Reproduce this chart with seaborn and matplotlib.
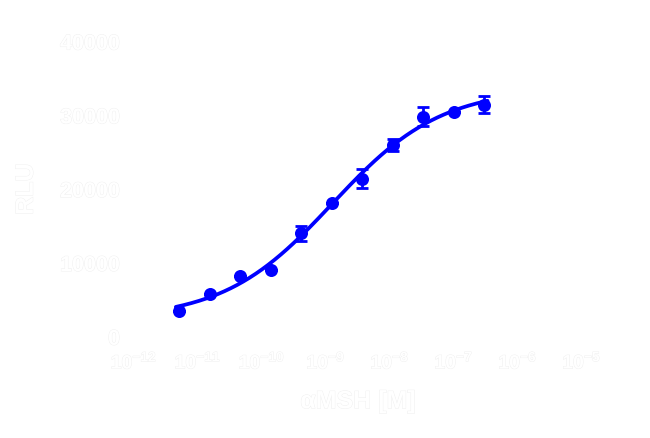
import numpy as np
import pandas as pd
import seaborn as sns
import matplotlib
matplotlib.use('Agg')
import matplotlib.pyplot as plt
import matplotlib.patheffects as pe

# concentrations (M), 3-fold dilutions
conc = [5.08e-12, 1.52e-11, 4.57e-11, 1.37e-10, 4.12e-10, 1.23e-9,
        3.70e-9, 1.11e-8, 3.33e-8, 1.0e-7, 3.0e-7]
rlu = [3500, 5750, 8240, 9050, 14030, 18100, 21400, 26010, 29810, 30490, 31440]
sem = [0, 0, 0, 0, 1000, 0, 1290, 810, 1310, 0, 1180]
yticks = [0, 10000, 20000, 30000, 40000]
xlabel = 'αMSH [M]'
ylabel = 'RLU'

df = pd.DataFrame({'conc': conc, 'rlu': rlu, 'sem': sem})

# simple 4PL fit on log concentration (grid search + linear lsq)
lx = np.log10(df['conc'].values)
yv = df['rlu'].values.astype(float)
best = None
for ec in np.arange(-11, -6.5, 0.01):
    for h in np.arange(0.3, 1.5, 0.01):
        f = 1.0 / (1.0 + 10 ** ((ec - lx) * h))
        A = np.vstack([np.ones_like(f), f]).T
        coef, res, _, _ = np.linalg.lstsq(A, yv, rcond=None)
        r = np.sum((A @ coef - yv) ** 2)
        if best is None or r < best[0]:
            best = (r, ec, h, coef)
_, ec50, hill, coef = best
xs = np.linspace(lx.min() - 0.05, lx.max() + 0.05, 200)
fit = pd.DataFrame({'conc': 10 ** xs,
                    'rlu': coef[0] + coef[1] / (1.0 + 10 ** ((ec50 - xs) * hill))})

sns.set_style('white')
plt.rcParams['font.family'] = ['Liberation Sans', 'DejaVu Sans']
plt.rcParams['font.weight'] = 'bold'

fig = plt.figure(figsize=(6.5, 4.38), dpi=100)
ax = fig.add_axes([0.206, 0.231, 0.689, 0.674])

blue = '#0000ff'
sns.lineplot(data=fit, x='conc', y='rlu', ax=ax, color=blue, linewidth=2.7)
ax.errorbar(df['conc'], df['rlu'], yerr=df['sem'], fmt='none', ecolor=blue,
            elinewidth=2, capsize=4.5, capthick=2)
sns.scatterplot(data=df, x='conc', y='rlu', ax=ax, color=blue, s=88,
                edgecolor=blue, linewidth=0, zorder=5)

ax.set_xscale('log')
ax.set_xlim(1e-12, 1e-5)
ax.set_ylim(0, 40000)
ax.set_yticks(yticks)
ax.set_xticks([10.0 ** k for k in range(-12, -4)])
ax.minorticks_off()

outline = [pe.withStroke(linewidth=0.6, foreground='#eeeeee')]
ax.set_xlabel(xlabel, fontsize=18, fontweight='bold', color='white',
              labelpad=12, path_effects=outline)
ax.set_ylabel(ylabel, fontsize=18, fontweight='bold', color='white',
              labelpad=16, path_effects=outline)
ax.tick_params(axis='both', length=0, colors='white', pad=10)
for lab in ax.get_yticklabels():
    lab.set_fontsize(15.5)
    lab.set_fontweight('bold')
    lab.set_path_effects(outline)
for lab in ax.get_xticklabels():
    lab.set_fontsize(14)
    lab.set_fontweight('bold')
    lab.set_path_effects(outline)
for s in ax.spines.values():
    s.set_visible(False)

fig.savefig('out.png', dpi=100)
